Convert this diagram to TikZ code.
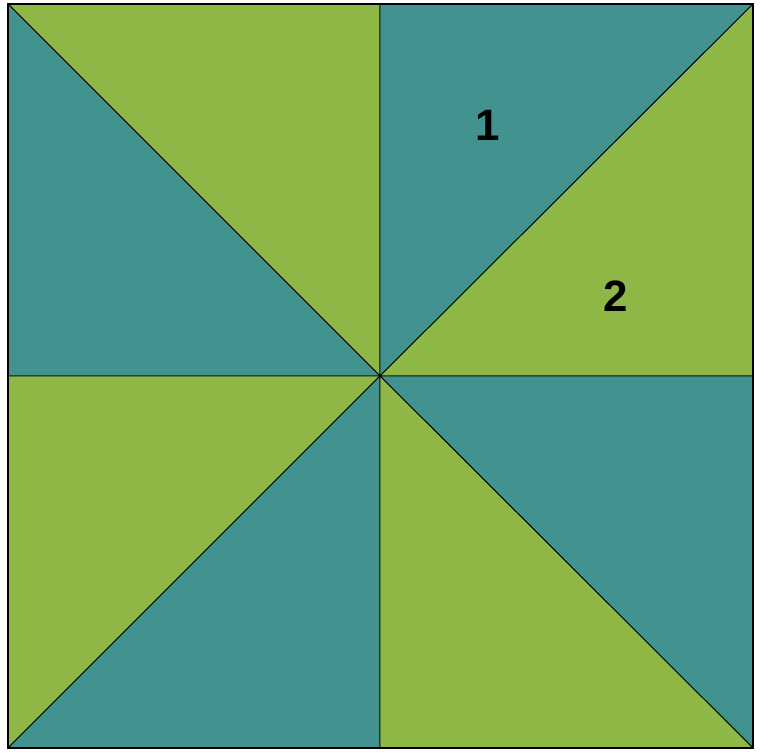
\documentclass[tikz,border=0pt]{standalone}
\usepackage{fontspec}
\setmainfont{Liberation Sans}
\definecolor{teal}{HTML}{42938F}
\definecolor{grass}{HTML}{8FB745}
\begin{document}
\begin{tikzpicture}[x=0.02cm,y=-0.02cm,
    tri/.style={draw=black, line width=0.5pt, line join=round},
    num/.style={font=\bfseries\fontsize{25}{25}\selectfont}]

        \useasboundingbox (0,0) rectangle (768,756);

        \coordinate (tl) at (8,4);
        \coordinate (tm) at (380,4);
        \coordinate (tr) at (753,4);
        \coordinate (ml) at (8,376);
        \coordinate (c)  at (380,376);
        \coordinate (mr) at (753,376);
        \coordinate (bl) at (8,748);
        \coordinate (bm) at (380,748);
        \coordinate (br) at (753,748);

        % top left
        \filldraw[tri, fill=grass] (tl) -- (tm) -- (c) -- cycle;
        \filldraw[tri, fill=teal] (tl) -- (ml) -- (c) -- cycle;
        % top right
        \filldraw[tri, fill=teal] (tm) -- (tr) -- (c) -- cycle;
        \filldraw[tri, fill=grass] (tr) -- (mr) -- (c) -- cycle;
        % bottom left
        \filldraw[tri, fill=grass] (ml) -- (c) -- (bl) -- cycle;
        \filldraw[tri, fill=teal] (c) -- (bm) -- (bl) -- cycle;
        % bottom right
        \filldraw[tri, fill=teal] (c) -- (mr) -- (br) -- cycle;
        \filldraw[tri, fill=grass] (c) -- (bm) -- (br) -- cycle;

        \draw[line width=0.7pt] (tl) rectangle (br);

        \node[num] (one) at (488,125) {1};
        \node[num] (two) at (616,296) {2};

\end{tikzpicture}
\end{document}
